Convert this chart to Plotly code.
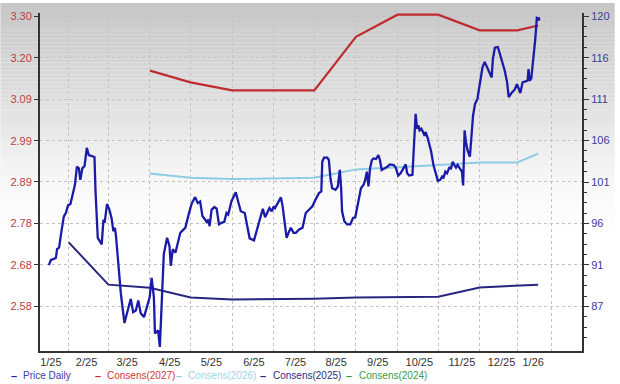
import numpy as np
import pandas as pd
import plotly.graph_objects as go

# ---------------- data (x = days since 2025-01-01) ----------------
BASE = pd.Timestamp("2025-01-01")

price_day = [-1.5, 0, 2.3, 3.8, 4.7, 6.2, 8.0, 9.8, 11.3, 13.0, 14.8, 16.7, 18.2, 19.7, 21.2, 22.3,
             23.8, 25.5, 27.2, 28.7, 30.5, 33.0, 33.8, 35.5, 38.5, 39.8, 40.7, 42.5, 44.3, 46.0,
             47.3, 48.5, 49.3, 51.2, 53.0, 55.7, 58.0, 60.5, 62.3, 64.3, 66.2, 68.0, 70.5, 73.0,
             74.8, 76.3, 78.0, 78.8, 81.2, 82.5, 84.0, 85.5, 88.0, 89.8, 90.8, 92.3, 94.3, 96.2,
             98.0, 99.8, 101.8, 104.3, 106.7, 109.3, 111.2, 113.0, 114.8, 116.8, 118.3, 119.3,
             120.2, 121.7, 123.8, 125.5, 127.3, 129.2, 131.3, 133.0, 134.3, 136.7, 140.0, 141.8,
             143.8, 146.8, 149.3, 150.5, 153.8, 155.5, 157.1, 160.5, 162.2, 163.7, 165.5, 167.3,
             168.8, 169.7, 172.3, 174.2, 175.5, 176.8, 178.5, 180.5, 181.7, 183.8, 185.5, 188.0,
             190.5, 193.0, 194.3, 196.3, 198.0, 199.7, 203.0, 204.8, 205.5, 206.8, 209.3, 210.5,
             211.7, 213.0, 215.5, 217.3, 218.8, 219.8, 220.5, 222.2, 224.3, 226.7, 228.8, 230.5,
             233.0, 234.8, 236.8, 238.0, 239.3, 240.5, 241.7, 243.0, 244.3, 246.2, 248.0, 249.2,
             250.5, 253.0, 254.8, 256.7, 259.7, 261.2, 263.0, 264.8, 266.8, 268.7, 269.8, 271.3,
             273.8, 275.5, 276.2, 277.3, 278.3, 279.2, 280.5, 281.8, 283.0, 283.7, 285.5, 288.0,
             289.7, 291.8, 293.0, 294.8, 296.3, 297.2, 298.7, 300.0, 301.7, 303.0, 304.3, 305.5,
             306.8, 308.0, 309.8, 311.3, 312.2, 313.3, 314.3, 315.5, 317.3, 318.8, 319.7, 321.2,
             323.0, 324.8, 326.8, 328.5, 330.5, 332.3, 333.8, 334.7, 336.2, 338.5, 339.8, 341.3,
             343.7, 345.5, 346.7, 348.8, 351.2, 353.0, 354.2, 355.5, 357.2, 359.3, 361.0, 361.7,
             362.5, 363.8, 365.5, 366.8, 368.0, 369.2]
price_val = [91.69, 92.29, 92.40, 92.52, 93.53, 93.68, 95.56, 97.25, 97.62, 98.49, 98.64, 99.88,
             100.83, 102.89, 102.70, 101.39, 102.70, 102.97, 105.03, 104.21, 104.13, 103.99, 100.07,
             94.80, 94.06, 96.88, 96.50, 98.64, 98.01, 96.99, 95.56, 95.93, 95.00, 91.05, 88.42,
             85.11, 86.35, 87.86, 86.35, 86.54, 87.67, 86.23, 85.78, 87.29, 88.04, 90.23, 88.04,
             83.91, 84.28, 82.40, 88.79, 92.93, 94.80, 93.87, 91.61, 93.50, 93.11, 94.24, 95.37,
             95.64, 95.93, 97.44, 98.75, 99.43, 98.75, 98.94, 97.25, 96.88, 96.50, 96.88, 96.12,
             98.01, 98.30, 98.12, 96.32, 96.50, 96.61, 97.62, 97.44, 98.94, 99.99, 98.94, 97.82,
             97.62, 95.56, 94.74, 94.51, 95.37, 96.46, 98.10, 97.14, 97.59, 98.19, 97.82, 98.38,
             98.19, 98.94, 99.40, 98.38, 97.06, 94.80, 95.56, 95.93, 95.37, 95.37, 95.75, 95.93,
             97.62, 97.82, 98.01, 98.38, 98.94, 99.88, 100.07, 103.46, 103.91, 103.91, 103.65,
             101.57, 100.44, 100.26, 100.64, 102.52, 100.44, 97.82, 96.69, 96.32, 96.32, 97.06,
             97.14, 98.94, 100.44, 100.83, 101.39, 102.33, 100.64, 102.70, 103.62, 103.83, 103.76,
             104.21, 103.65, 102.52, 102.70, 102.89, 103.15, 103.08, 102.78, 101.88, 102.14,
             102.70, 103.15, 102.14, 101.88, 101.96, 106.08, 108.90, 107.21, 107.59, 107.03,
             107.21, 106.84, 106.39, 106.84, 106.08, 104.58, 103.08, 101.96, 101.28, 101.39,
             101.76, 101.57, 102.33, 102.14, 102.78, 102.70, 103.46, 103.08, 102.78, 103.08,
             102.70, 102.33, 100.75, 107.03, 105.71, 104.77, 104.02, 106.84, 108.72, 110.03,
             110.59, 112.29, 114.17, 114.81, 114.17, 113.41, 113.04, 115.11, 116.42, 116.50,
             115.86, 114.92, 113.80, 112.48, 110.79, 111.27, 111.65, 112.29, 111.80, 111.27,
             112.48, 112.56, 112.67, 113.98, 112.67, 112.93, 115.11, 117.36, 119.81, 119.70]

cons_day = [13.5, 43.5, 75.0, 105.75, 137.25, 168.75, 199.5, 231.0, 262.5, 293.25, 324.75, 353.25, 369.0]
cons_2027 = [None, None, 3.165, 3.136, 3.116, 3.116, 3.116, 3.249, 3.304, 3.304, 3.265, 3.265, 3.277]
cons_2026 = [None, None, 2.910, 2.899, 2.896, 2.898, 2.899, 2.920, 2.925, 2.931, 2.937, 2.937, 2.959]
cons_2025 = [2.739, 2.634, 2.626, 2.602, 2.597, 2.598, 2.599, 2.602, 2.603, 2.604, 2.627, 2.631, 2.634]

# axis ticks
x_tick_day = [0, 27, 57.75, 90, 121.5, 153.75, 185.25, 216, 247.5, 279, 311.25, 341.25, 365.25]
x_tick_text = ["1/25", "2/25", "3/25", "4/25", "5/25", "6/25", "7/25", "8/25", "9/25",
               "10/25", "11/25", "12/25", "1/26"]
x_grid_day = [13.5, 43.5, 75, 105.75, 137.25, 168.75, 199.5, 231, 262.5, 293.25, 324.75, 353.25, 378.75]

eps_tick_val = [3.300, 3.197, 3.094, 2.991, 2.889, 2.786, 2.683, 2.580]
eps_tick_text = ["3.30", "3.20", "3.09", "2.99", "2.89", "2.78", "2.68", "2.58"]
px_tick_val = [120.0, 115.29, 110.57, 105.86, 101.14, 96.43, 91.71, 87.0]
px_tick_text = ["120", "116", "111", "106", "101", "96", "91", "87"]

legend_names = ["Price Daily", "Consens(2027)", "Consens(2026)", "Consens(2025)", "Consens(2024)"]

# ---------------- styling ----------------
C_PRICE = "#1b1ba8"
C_2027 = "#bf2b2f"
C_2026 = "#8ccde3"
C_2025 = "#262680"
C_2024 = "#2f9a3a"
legend_colors = [C_PRICE, C_2027, C_2026, C_2025, C_2024]
legend_text_colors = ["#3a3aa6", "#cc3a3a", "#9fd6ea", "#2c2c7e", "#3a9a45"]

W, H = 620, 384
L, R, T, B = 40, 33, 10, 33
PW, PH = W - L - R, H - T - B

def to_dates(days):
    return BASE + pd.to_timedelta(np.array(days, dtype=float), unit="D")

fig = go.Figure()
fig.add_trace(go.Scatter(x=to_dates(cons_day), y=cons_2025, mode="lines",
                         line=dict(color=C_2025, width=2), yaxis="y"))
fig.add_trace(go.Scatter(x=to_dates(cons_day), y=cons_2026, mode="lines",
                         line=dict(color=C_2026, width=2), yaxis="y"))
fig.add_trace(go.Scatter(x=to_dates(cons_day), y=cons_2027, mode="lines",
                         line=dict(color=C_2027, width=2.2), yaxis="y"))
fig.add_trace(go.Scatter(x=to_dates(price_day), y=price_val, mode="lines",
                         line=dict(color=C_PRICE, width=2.3), yaxis="y2"))
fig.add_trace(go.Scatter(x=to_dates(price_day[-1:]), y=price_val[-1:], mode="markers",
                         marker=dict(color=C_PRICE, size=4), yaxis="y2"))

x_range = to_dates([-8.25, 402.2])
eps_step = (eps_tick_val[0] - eps_tick_val[-1]) / 7
px_step = (px_tick_val[0] - px_tick_val[-1]) / 7
# plot area spans slightly above the top tick and further below the bottom tick
eps_range = [eps_tick_val[-1] - eps_step * 1.0764, eps_tick_val[0] + eps_step * 0.0789]
px_range = [px_tick_val[-1] - px_step * 1.0764, px_tick_val[0] + px_step * 0.0789]
minor_px = [px_tick_val[0] - k * px_step / 4 for k in range(0, 37) if k % 4 != 0]

grid_style = dict(gridcolor="#c2c2c2", griddash="dot", gridwidth=1)
axis_line = dict(showline=True, linecolor="#333333", linewidth=2)

fig.update_layout(
    width=W, height=H,
    margin=dict(l=L, r=R, t=T, b=B),
    paper_bgcolor="white",
    plot_bgcolor="rgba(0,0,0,0)",
    showlegend=False,
    font=dict(family="Liberation Sans, Arial, sans-serif", size=11, color="#333333"),
    xaxis=dict(type="date", range=list(x_range), tickmode="array",
               tickvals=list(to_dates(x_tick_day)), ticktext=x_tick_text,
               ticks="", showgrid=False, zeroline=False,
               tickfont=dict(size=11, color="#333333"),
               minor=dict(tickmode="array", tickvals=list(to_dates(x_grid_day)),
                          showgrid=True, ticks="", **grid_style),
               **axis_line),
    yaxis=dict(range=eps_range, tickmode="array", tickvals=eps_tick_val, ticktext=eps_tick_text,
               ticks="outside", ticklen=4, tickwidth=1, tickcolor="#333333",
               tickfont=dict(size=11, color="#b8403f"), showgrid=True, zeroline=False,
               **grid_style, **axis_line),
    yaxis2=dict(range=px_range, overlaying="y", side="right", tickmode="array",
                tickvals=px_tick_val, ticktext=px_tick_text,
                ticks="outside", ticklen=5, tickwidth=1, tickcolor="#333333",
                tickfont=dict(size=11, color="#3c3c9c"), showgrid=False, zeroline=False,
                minor=dict(tickmode="array", tickvals=minor_px, ticks="outside",
                           ticklen=3, tickcolor="#333333", showgrid=False),
                **axis_line),
)

# background gradient (whole canvas), built from thin horizontal bands
grad_stops_px = [0, 96, 184, 240]
grad_stops_gray = [198, 223, 248, 255]
band = 4
for y0 in range(0, 240, band):
    g = int(round(np.interp(y0 + band / 2, grad_stops_px, grad_stops_gray)))
    fig.add_shape(type="rect", xref="paper", yref="paper", layer="below",
                  x0=-L / PW, x1=(W - L) / PW,
                  y0=(H - B - (y0 + band)) / PH, y1=(H - B - y0) / PH,
                  line=dict(width=0), fillcolor=f"rgb({g},{g},{g})")

# legend row (custom)
dash_px = [14, 99, 180, 265, 352]
text_px = [21, 106, 187, 273, 360]
leg_y = (PH + T - 376) / PH
for name, col, tcol, dx, tx in zip(legend_names, legend_colors, legend_text_colors, dash_px, text_px):
    fig.add_annotation(x=(dx - L) / PW, y=leg_y, xref="paper", yref="paper",
                       text="<b>–</b>", showarrow=False, xanchor="center", yanchor="middle",
                       font=dict(size=11, color=col, family="Liberation Sans"))
    fig.add_annotation(x=(tx - L) / PW, y=leg_y, xref="paper", yref="paper",
                       text=name, showarrow=False, xanchor="left", yanchor="middle",
                       font=dict(size=10, color=tcol, family="Liberation Sans"))

fig.write_html("out.html")
